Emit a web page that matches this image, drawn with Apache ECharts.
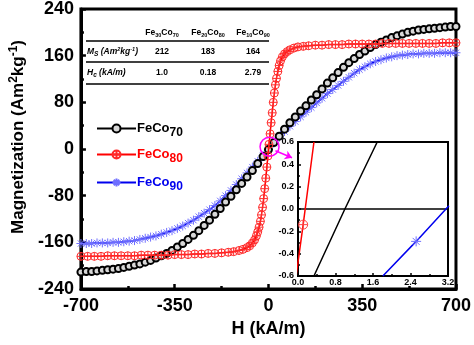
<!DOCTYPE html>
<html><head><meta charset="utf-8">
<script src="https://cdn.jsdelivr.net/npm/echarts/dist/echarts.min.js"></script>
<style>html,body{margin:0;padding:0;background:#fff}#c{width:474px;height:345px}</style>
</head><body><div id="c"></div>
<script>
// ---- data ----
const fieldH = [-700,-680,-660,-640,-620,-600,-580,-560,-540,-520,-500,-480,-460,-440,-420,-400,-380,-360,-340,-320,-300,-280,-260,-240,-220,-200,-180,-160,-140,-120,-100,-80,-60,-40,-20,0,
  20,40,60,80,100,120,140,160,180,200,220,240,260,280,300,320,340,360,380,400,420,440,460,480,500,520,540,560,580,600,620,640,660,680,700];
const feco70M = [-211,-210,-210,-209,-208,-207,-206,-205,-203,-201,-199,-197,-194,-191,-187,-183,-179,-174,-168,-162,-155,-148,-140,-131,-122,-112,-102,-91,-81,-70,-59,-48,-37,-25,-13,-1,
  11,22,34,45,55,65,74,84,93,103,113,122,131,140,148,155,162,168,174,179,183,187,191,194,197,200,202,204,205,206,207,208,209,210,210];
const feco90M = [-162,-162,-162,-161,-161,-161,-160,-160,-159,-158,-157,-155,-153,-151,-149,-146,-143,-140,-136,-132,-127,-122,-116,-110,-104,-97,-89,-80,-71,-61,-51,-41,-31,-21,-11,-1,
  10,20,30,39,47,55,63,71,79,87,95,102,109,116,123,130,136,141,146,150,153,156,158,160,161,162,163,163,164,164,164,165,165,165,165];
const feco80H = [-700,-675,-650,-625,-600,-575,-550,-525,-500,-475,-450,-425,-400,-375,-350,-325,-300,-275,-250,-225,-200,-175,-150,
  -130,-110,-95,-80,-70,-60,-52,-45,-40,-35,-30,-26,-22,-18,-14,-10,-6,-2,
  2,6,10,14,18,22,26,30,35,40,45,52,60,70,80,95,110,130,
  150,175,200,225,250,275,300,325,350,375,400,425,450,475,500,525,550,575,600,625,650,675,700];
const feco80M = [-184,-184,-184,-184,-183,-183,-183,-183,-183,-182,-182,-182,-182,-182,-181,-181,-181,-180,-180,-179,-179,-178,-177,
  -176,-174,-172,-169,-166,-161,-156,-149,-142,-134,-124,-113,-100,-85,-68,-50,-31,-12,
  8,26,45,62,80,96,110,121,133,143,151,158,163,167,170,173,175,176,
  177,178,178,179,179,179,180,180,180,180,180,181,181,181,181,181,181,181,181,181,182,182,182];
// inset (zoom near origin)
const inset70 = [[0.34,-0.6],[1.0,0.0],[1.69,0.6]];
const inset80 = [[-0.04,-0.6],[0.11,-0.14],[0.34,0.6]];
const inset90 = [[1.81,-0.6],[2.52,-0.29],[3.22,0.03]];
const inset80Marked = 1, inset90Marked = 1;
// annotation: circle at origin, arrow toward the inset
const focusPoint = [4, 4];
const arrowFrom = [26, -3], arrowTo = [88, -15];
// table
const alloyFe = ['30','20','10'];
const alloyCo = ['70','80','90'];
const msValues = ['212','183','164'];
const hcValues = ['1.0','0.18','2.79'];
const seriesNames = ['FeCo70','FeCo80','FeCo90'];

// ---- style ----
const FONT = 'Liberation Sans, Arial, sans-serif';
const crossCircle = 'path://M-1,0 A1,1 0 1,0 1,0 A1,1 0 1,0 -1,0 Z M-1,0 L1,0 M0,-1 L0,1';
const asterisk = 'path://M0,-1 L0,1 M-1,0 L1,0 M-0.7,-0.7 L0.7,0.7 M-0.7,0.7 L0.7,-0.7';
const colors = {FeCo70:'#000000', FeCo80:'#ff0000', FeCo90:'#0000ee'};

const chart = echarts.init(document.getElementById('c'), null, {renderer:'canvas'});

function fmt1(v){ if (Math.abs(v) < 1e-9) return '0.0'; return v.toFixed(1); }

const legendTops = [117, 143, 171];
const legends = seriesNames.map((n, i) => ({
  data: [n], left: 91, top: legendTops[i], orient: 'vertical',
  itemWidth: 39, itemHeight: 10, itemGap: 0,
  selectedMode: false,
  formatter: name => '{a|FeCo}{b|' + name.slice(4) + '}',
  textStyle: {
    padding: [0,0,0,-4],
    rich: {
      a: {fontSize: 13, fontWeight: 'bold', fontFamily: FONT, color: colors[n]},
      b: {fontSize: 12, fontWeight: 'bold', fontFamily: FONT, color: colors[n], padding: [9,0,0,0]}
    }
  }
}));

// table graphic
const colX = [162, 208, 253];
const tableGraphics = [];
[41, 62, 84].forEach(y => tableGraphics.push({
  type:'line', shape:{x1:86, y1:y, x2:269, y2:y}, style:{stroke:'#000', lineWidth:1.5}, silent:true
}));
const tRich = {
  a: {fontSize: 8.5, fontWeight:'bold', fontFamily: FONT, fill:'#000', color:'#000'},
  s: {fontSize: 5.5, fontWeight:'bold', fontFamily: FONT, fill:'#000', color:'#000', padding:[5,0,0,0]},
  i: {fontSize: 8.5, fontWeight:'bold', fontStyle:'italic', fontFamily: FONT, fill:'#000', color:'#000'},
  is: {fontSize: 6.5, fontWeight:'bold', fontStyle:'italic', fontFamily: FONT, fill:'#000', color:'#000', padding:[5,0,0,0]},
  isup: {fontSize: 5.5, fontWeight:'bold', fontStyle:'italic', fontFamily: FONT, fill:'#000', color:'#000', padding:[0,0,5,0]}
};
alloyFe.forEach((fe, i) => {
  tableGraphics.push({type:'text', x: colX[i], y: 33, silent:true,
    style:{text:'{a|Fe}{s|' + fe + '}{a|Co}{s|' + alloyCo[i] + '}', rich:tRich, align:'center', verticalAlign:'middle'}});
  tableGraphics.push({type:'text', x: colX[i], y: 52, silent:true,
    style:{text: msValues[i], font:'bold 8.5px ' + FONT, fill:'#000', align:'center', verticalAlign:'middle'}});
  tableGraphics.push({type:'text', x: colX[i], y: 73, silent:true,
    style:{text: hcValues[i], font:'bold 8.5px ' + FONT, fill:'#000', align:'center', verticalAlign:'middle'}});
});
tableGraphics.push({type:'text', x: 87, y: 52, silent:true,
  style:{text:'{i|M}{is|S}{i| (Am}{isup|2}{i|kg}{isup|-1}{i|)}', rich:tRich, align:'left', verticalAlign:'middle'}});
tableGraphics.push({type:'text', x: 87, y: 73, silent:true,
  style:{text:'{i|H}{is|c}{i| (kA/m)}', rich:tRich, align:'left', verticalAlign:'middle'}});

const mainLabel = {fontSize: 18, fontWeight: 'bold', fontFamily: FONT, color: '#000'};
const insetLabel = {fontSize: 9, fontWeight: 'bold', fontFamily: FONT, color: '#000'};

const option = {
  animation: false,
  backgroundColor: '#fff',
  grid: [
    {left: 78, right: 15, top: 8, bottom: 56, show: true, borderColor: '#000', borderWidth: 3, backgroundColor: 'transparent'},
    {left: 298, right: 26, top: 142, bottom: 69, show: true, borderColor: '#000', borderWidth: 2, backgroundColor: '#fff', z: 5}
  ],
  legend: legends,
  xAxis: [
    {type:'value', gridIndex:0, min:-700, max:700, interval:350,
     name:'H (kA/m)', nameLocation:'middle', nameGap:31,
     nameTextStyle:{fontSize:18, fontWeight:'bold', fontFamily:FONT, color:'#000'},
     axisLine:{show:true, onZero:false, lineStyle:{color:'#000', width:3}},
     axisTick:{show:true, inside:true, length:5, lineStyle:{color:'#000', width:2.5}},
     minorTick:{show:true, splitNumber:2, length:3, lineStyle:{color:'#000', width:2.5}},
     splitLine:{show:false},
     axisLabel:Object.assign({margin:8, showMinLabel:true, showMaxLabel:true}, mainLabel)},
    {type:'value', gridIndex:1, min:0, max:3.2, interval:0.8,
     axisLine:{show:true, onZero:false, lineStyle:{color:'#000', width:2}},
     axisTick:{show:true, inside:true, length:3, lineStyle:{color:'#000', width:1.5}},
     minorTick:{show:true, splitNumber:2, length:2, lineStyle:{color:'#000', width:1.5}},
     splitLine:{show:false},
     axisLabel:Object.assign({margin:2, formatter: fmt1, showMinLabel:true, showMaxLabel:true}, insetLabel),
     z: 6}
  ],
  yAxis: [
    {type:'value', gridIndex:0, min:-240, max:240, interval:80,
     name:'Magnetization (Am{sup|2}kg{sup|-1})', nameLocation:'middle', nameGap:47, nameRotate:90,
     nameTextStyle:{fontSize:17, fontWeight:'bold', fontFamily:FONT, color:'#000', padding:[0,0,0,24],
       rich:{sup:{fontSize:12, fontWeight:'bold', fontFamily:FONT, color:'#000', padding:[0,0,9,0]}}},
     axisLine:{show:true, onZero:false, lineStyle:{color:'#000', width:3}},
     axisTick:{show:true, inside:true, length:5, lineStyle:{color:'#000', width:2.5}},
     minorTick:{show:true, splitNumber:2, length:3, lineStyle:{color:'#000', width:2.5}},
     splitLine:{show:false},
     axisLabel:Object.assign({margin:7, showMinLabel:true, showMaxLabel:true}, mainLabel)},
    {type:'value', gridIndex:1, min:-0.6, max:0.6, interval:0.2,
     axisLine:{show:true, onZero:false, lineStyle:{color:'#000', width:2}},
     axisTick:{show:true, inside:true, length:3, lineStyle:{color:'#000', width:1.5}},
     minorTick:{show:true, splitNumber:2, length:2, lineStyle:{color:'#000', width:1.5}},
     splitLine:{show:false},
     axisLabel:Object.assign({margin:4, formatter: fmt1, showMinLabel:true, showMaxLabel:true}, insetLabel),
     z: 6}
  ],
  graphic: tableGraphics,
  series: [
    {name:'FeCo90', type:'line', xAxisIndex:0, yAxisIndex:0, z:2,
     data: fieldH.map((h, i) => [h, feco90M[i]]),
     symbol: asterisk, symbolSize: 9, showAllSymbol: true,
     itemStyle:{color:'rgba(0,0,0,0)', borderColor:'#6f6fff', borderWidth:1},
     lineStyle:{color:'#0000ee', width:1.8}},
    {name:'FeCo70', type:'line', xAxisIndex:0, yAxisIndex:0, z:3,
     data: fieldH.map((h, i) => [h, feco70M[i]]),
     symbol: 'circle', symbolSize: 7, showAllSymbol: true,
     itemStyle:{color:'#d8d8d8', borderColor:'#000', borderWidth:2},
     lineStyle:{color:'#000', width:2}},
    {name:'FeCo80', type:'line', xAxisIndex:0, yAxisIndex:0, z:4,
     data: feco80H.map((h, i) => [h, feco80M[i]]),
     symbol: crossCircle, symbolSize: 8, showAllSymbol: true,
     itemStyle:{color:'rgba(0,0,0,0)', borderColor:'#ff2a2a', borderWidth:1},
     lineStyle:{color:'#ff0000', width:1.5},
     markPoint:{silent:true, symbol:'circle', symbolSize:19,
       itemStyle:{color:'rgba(0,0,0,0)', borderColor:'#ff00ff', borderWidth:1.5},
       label:{show:false}, data:[{coord: focusPoint}]},
     markLine:{silent:true, symbol:['none','arrow'], symbolSize:7, label:{show:false},
       lineStyle:{color:'#ff00ff', width:1.5, type:'solid'},
       data:[[{coord: arrowFrom}, {coord: arrowTo}]]}},
    {name:'in70', type:'line', xAxisIndex:1, yAxisIndex:1, z:7, symbol:'none',
     data: inset70, lineStyle:{color:'#000', width:1.5},
     markLine:{silent:true, symbol:['none','none'], label:{show:false},
       lineStyle:{color:'#000', width:1.5, type:'solid'}, data:[{yAxis:0}]}},
    {name:'in80', type:'line', xAxisIndex:1, yAxisIndex:1, z:7,
     data: inset80.map((p, i) => i === inset80Marked ? {value:p, symbol:crossCircle, symbolSize:9} : {value:p, symbol:'none'}),
     itemStyle:{color:'rgba(0,0,0,0)', borderColor:'#ff4040', borderWidth:1},
     lineStyle:{color:'#ff0000', width:1.5}},
    {name:'in90', type:'line', xAxisIndex:1, yAxisIndex:1, z:7,
     data: inset90.map((p, i) => i === inset90Marked ? {value:p, symbol:asterisk, symbolSize:10} : {value:p, symbol:'none'}),
     itemStyle:{color:'rgba(0,0,0,0)', borderColor:'#6f6fff', borderWidth:1},
     lineStyle:{color:'#0000ee', width:1.5}}
  ]
};
chart.setOption(option);
</script></body></html>
